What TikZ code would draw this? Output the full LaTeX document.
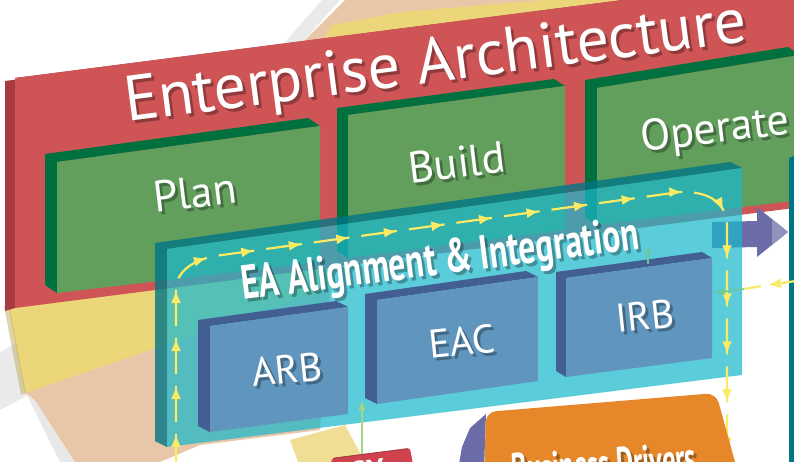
\documentclass[tikz,border=0pt]{standalone}
\usepackage{fontspec}
\setmainfont{PT Sans}
\usetikzlibrary{calc,decorations.markings,arrows.meta}
\definecolor{eaRed}{RGB}{206,84,86}
\definecolor{eaRedSide}{RGB}{168,58,64}
\definecolor{eaGreen}{RGB}{98,158,92}
\definecolor{eaGreenSide}{RGB}{0,112,62}
\definecolor{eaTeal}{RGB}{28,184,204}
\definecolor{eaTealSide}{RGB}{0,118,134}
\definecolor{eaBlue}{RGB}{96,150,190}
\definecolor{eaBlueSide}{RGB}{66,94,146}
\definecolor{eaYellow}{RGB}{236,214,122}
\definecolor{eaBeige}{RGB}{232,198,168}
\definecolor{eaFlow}{RGB}{250,234,100}
\definecolor{eaMint}{RGB}{110,200,150}
\definecolor{eaPurple}{RGB}{108,108,168}
\definecolor{eaOrange}{RGB}{230,136,42}
\definecolor{eaStrat}{RGB}{208,66,78}
\tikzset{>=latex,
  title/.style={text=white, font=\fontsize{64}{68}\selectfont, anchor=base west, inner sep=0pt, rotate=7.4},
  phase/.style={text=white, font=\fontsize{44}{48}\selectfont, anchor=base west, inner sep=0pt, rotate=7},
  board/.style={text=white, font=\fontsize{40}{44}\selectfont, anchor=base west, inner sep=0pt, rotate=6},
  band/.style={text=white, font=\bfseries\fontsize{48}{52}\selectfont, anchor=base west, inner sep=0pt, rotate=7.3},
  drive/.style={text=white, font=\bfseries\fontsize{44}{48}\selectfont, anchor=base, inner sep=0pt, rotate=3.7},
  flow/.style={draw=eaFlow, line width=2.2pt, dash pattern=on 36pt off 12pt,
    postaction={decorate, decoration={markings,
      mark=between positions 36pt and -2pt step 48pt with {\arrow{Latex[length=13pt,width=10pt]}}}}}
}
\newcommand\slab[7]{% top left, top right, bottom right, bottom left, depth, side, front
    \fill[#6] ($(#4)+(#5)$) -- ($(#1)+(#5)$) -- ($(#2)+(#5)$) -- (#2) -- (#1) -- (#4) -- cycle;
    \fill[#7] (#1) -- (#2) -- (#3) -- (#4) -- cycle;
}
\newcommand\castlabel[4]{% name, position, style, text
    \node[#3, text=black, opacity=0.3] (#1-shadow) at ($(#2)+(3,3)$) {#4};
    \node[#3] (#1) at (#2) {#4};
}

\begin{document}
\begin{tikzpicture}[x=1pt, y=-1pt, line join=round]
    \useasboundingbox (0,0) rectangle (794,462);
    \clip (0,0) rectangle (794,462);
    % sheets in the back
    \fill[eaBeige] (300,45) -- (345,0) -- (794,0) -- (794,40) -- cycle;
    \fill[gray!20, opacity=.8] (285,42) -- (322,0) -- (340,0) -- (300,45) -- cycle;
    \fill[eaYellow] (320,45) -- (332,25) -- (400,12) -- (570,-2) -- (794,-2) -- (794,40) -- cycle;
    \fill[gray!20, opacity=.8] (0,352) -- (22,340) -- (28,395) -- (0,410) -- cycle;
    \fill[gray!30, opacity=.6] (22,385) -- (35,385) -- (82,462) -- (60,462) -- cycle;
    \fill[eaBeige] (25,392) -- (330,288) -- (320,430) -- (200,445) -- (160,462) -- (75,462) -- (35,400) -- cycle;
    \fill[eaYellow] (8,305) -- (330,262) -- (330,288) -- (25,393) -- cycle;
    \fill[eaYellow!80!black, opacity=.5] (4,306) -- (9,305) -- (26,393) -- (21,395) -- cycle;
    \fill[eaYellow, opacity=.8] (290,440) -- (345,425) -- (365,462) -- (298,462) -- cycle;

    % enterprise architecture panel
    \slab{15,78}{794,-22}{794,208}{15,308}{-10,3}{eaRedSide}{eaRed}
    \slab{57,162}{320,126}{320,262}{57,293}{-12,-8}{eaGreenSide}{eaGreen}
    \slab{348,115}{565,86}{565,230}{348,258}{-11,-7}{eaGreenSide}{eaGreen}
    \slab{597,88}{800,55}{800,200}{597,225}{-12,-8}{eaGreenSide}{eaGreen}
    \castlabel{eaTitle}{127,122}{title}{Enterprise Architecture}
    \castlabel{plan}{155,213}{phase}{Plan}
    \castlabel{build}{410,184}{phase}{Build}
    \castlabel{operate}{642,152}{phase}{Operate}

    % hand-off arrow and next panel
    \fill[eaPurple] (712,222) -- (757,221) -- (757,207) -- (788,232) -- (757,257) -- (757,247) -- (712,248) -- cycle;
    \fill[eaPurple!75!white] (772,219) -- (788,232) -- (772,245) -- cycle;
    \fill[eaTealSide] (789,158) -- (794,156) -- (794,462) -- (789,462) -- cycle;

    % alignment band
    \slab{167,249}{742,168}{742,375}{167,447}{-12,-6}{eaTealSide, fill opacity=.8}{eaTeal, fill opacity=.72}
    \slab{210,326}{348,307}{348,414}{210,432}{-12,-6}{eaBlueSide}{eaBlue}
    \slab{377,300}{538,277}{538,381}{377,404}{-12,-6}{eaBlueSide}{eaBlue}
    \slab{566,278}{712,258}{712,358}{566,377}{-10,-6}{eaBlueSide}{eaBlue}
    \castlabel{alignment}{243,300}{band}{\scalebox{.7}[1]{EA Alignment \& Integration}}
    \castlabel{arb}{253,387}{board}{ARB}
    \castlabel{eac}{430,359}{board}{EAC}
    \castlabel{irb}{617,333}{board}{IRB}

    % flow round the band
    \coordinate (flowStart) at (176,470);
    \coordinate (flowEnd) at (727,470);
    \draw[flow] (flowStart) -- (176,290) .. controls (176,270) and (195,260) .. (215,256)
        -- (680,192) .. controls (705,191) and (726,200) .. (727,225) -- (flowEnd);
    \coordinate (feedIn) at (796,281);
    \coordinate (feedMid) at (768,285);
    \coordinate (feedOut) at (744,289);
    \coordinate (feedIrb) at (714,293);
    \draw[eaFlow, line width=2.2pt, -{Latex[length=13pt,width=10pt]}] (feedIn) -- (feedMid);
    \draw[eaFlow, line width=2.2pt] ($(feedMid)!.3!(feedOut)$) -- (feedOut);
    \draw[eaMint, line width=1.5pt, -{Latex[length=10pt,width=7pt]}] (feedOut) -- (feedIrb);
    \coordinate (upLow) at (362,470);
    \coordinate (upHigh) at (362,400);
    \draw[eaMint!60!eaFlow, line width=1.5pt, -{Latex[length=10pt,width=7pt]}] (upLow) -- (upHigh);
    \coordinate (irbLow) at (648,264);
    \coordinate (irbHigh) at (648,245);
    \draw[eaMint, line width=1.5pt, -{Latex[length=8pt,width=6pt]}] (irbLow) -- (irbHigh);

    % boxes below
    \begin{scope}
        \clip[rounded corners=3pt] (330,470) -- (332,458) -- (410,448) -- (414,470) -- cycle;
        \fill[eaStrat] (320,440) rectangle (420,470);
        \draw[eaRedSide, line width=2pt] (332,458) -- (410,448);
        \node[text=white, font=\bfseries\fontsize{30}{32}\selectfont, anchor=base east, inner sep=0pt, rotate=7] (strategy) at (386,479) {STRATEGY};
    \end{scope}
    \fill[eaPurple] (462,447) -- (470,428) -- (486,414) -- (484,470) -- (458,470) -- cycle;
    \fill[eaOrange, rounded corners=10pt] (484,480) -- (486,412) -- (716,393) -- (740,480) -- cycle;
    \castlabel{drivers}{605,479}{drive}{\scalebox{.6}[1]{Business Drivers}}
\end{tikzpicture}
\end{document}
